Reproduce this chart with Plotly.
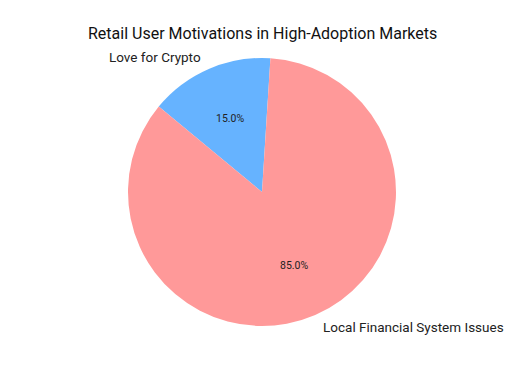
import math
import plotly.graph_objects as go

labels = ["Love for Crypto", "Local Financial System Issues"]
values = [15.0, 85.0]
colors = ["#66b3ff", "#ff9999"]
title = "Retail User Motivations in High-Adoption Markets"

W, H = 512, 384
cx, cy, r = 262, 192, 134  # pie centre / radius in pixels (from top-left)
start_deg = 86.4  # start angle of first slice, counterclockwise from 3 o'clock

dom_x = [(cx - r) / W, (cx + r) / W]
dom_y = [(H - cy - r) / H, (H - cy + r) / H]

total = sum(values)
# plotly (counterclockwise) places the END of the first slice at the rotation angle
first_end = start_deg + 360 * values[0] / total

fig = go.Figure(go.Pie(
    labels=labels, values=values, sort=False,
    direction="counterclockwise", rotation=90 - first_end,
    marker=dict(colors=colors, line=dict(width=0)),
    textinfo="none", showlegend=False,
    domain=dict(x=dom_x, y=dom_y),
))

ang = start_deg
annotations = []
for lab, v in zip(labels, values):
    span = 360 * v / total
    mid = math.radians(ang + span / 2)
    ang += span
    c, s = math.cos(mid), math.sin(mid)
    lx = (cx + 1.1 * r * c) / W
    ly = (H - cy + 1.1 * r * s) / H
    annotations.append(dict(x=lx, y=ly, xref="paper", yref="paper", text=lab,
                            showarrow=False, xanchor="right" if c < 0 else "left",
                            yanchor="middle", font=dict(size=13.5, color="#222")))
    px = (cx + 0.6 * r * c) / W
    py = (H - cy + 0.6 * r * s) / H
    annotations.append(dict(x=px, y=py, xref="paper", yref="paper",
                            text=f"{100 * v / total:.1f}%", showarrow=False,
                            xanchor="center", yanchor="middle",
                            font=dict(size=10.5, color="#222")))

annotations.append(dict(x=262 / W, y=(H - 33) / H, xref="paper", yref="paper",
                        text=title, showarrow=False, xanchor="center",
                        yanchor="middle", font=dict(size=16, color="#111")))

fig.update_layout(
    width=W, height=H, margin=dict(l=0, r=0, t=0, b=0),
    paper_bgcolor="white", plot_bgcolor="white",
    font=dict(family="Roboto, sans-serif"),
    annotations=annotations,
)
fig.write_html("out.html")
